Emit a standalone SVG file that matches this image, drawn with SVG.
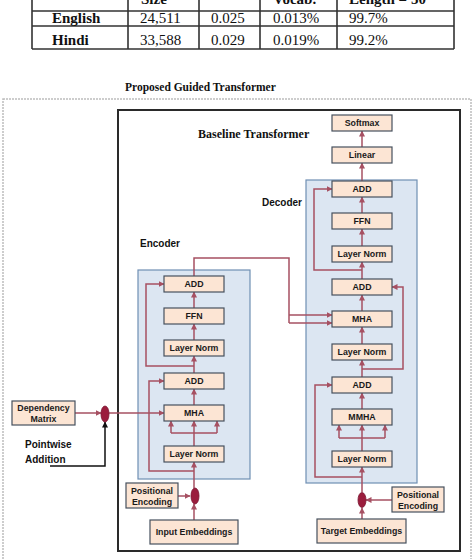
<svg xmlns="http://www.w3.org/2000/svg" width="474" height="559" viewBox="0 0 474 559">
<style>
.tb{font-family:"Liberation Serif",serif;font-size:15px;fill:#111}
.b{font-weight:bold}
.tl{stroke:#333;stroke-width:1.6;fill:none}
.box{fill:#fce5d4;stroke:#46505e;stroke-width:1.2}
.blue{fill:#dce6f2;stroke:#6f8fb3;stroke-width:1.2}
.lb{font-family:"Liberation Sans",Arial,sans-serif;font-weight:bold;font-size:8.8px;fill:#1a1a1a;text-anchor:middle}
.hd{font-family:"Liberation Sans",Arial,sans-serif;font-weight:bold;font-size:10px;fill:#111}
.c{stroke:#a65062;stroke-width:1.5;fill:none}
.ca{stroke:#a65062;stroke-width:1.5;fill:none;marker-end:url(#ar)}
.dot{fill:#9b1d3d;stroke:#7a1430;stroke-width:0.8}
</style>
<defs>
<marker id="ar" markerWidth="6" markerHeight="6" refX="5.5" refY="3" orient="auto" markerUnits="userSpaceOnUse"><path d="M0,0 L6,3 L0,6 z" fill="#a65062"/></marker>
<marker id="arb" markerWidth="6" markerHeight="6" refX="5.5" refY="3" orient="auto" markerUnits="userSpaceOnUse"><path d="M0,0 L6,3 L0,6 z" fill="#111"/></marker>
</defs>
<rect width="474" height="559" fill="#fff"/>

<!-- table -->
<g id="table">
<path class="tl" d="M32,0 V49 M128,0 V49 M199,0 V49 M260,0 V49 M337,0 V49 M454,0 V49 M32,11 H454 M32,26 H454 M32,49 H454"/>
<text class="tb b" x="141" y="4">Size</text>
<text class="tb b" x="273" y="4">Vocab.</text>
<text class="tb b" x="349" y="4">Length = 50</text>
<text class="tb b" x="52" y="23">English</text>
<text class="tb" x="140" y="23">24,511</text>
<text class="tb" x="211" y="23">0.025</text>
<text class="tb" x="273" y="23">0.013%</text>
<text class="tb" x="349" y="23">99.7%</text>
<text class="tb b" x="52" y="45">Hindi</text>
<text class="tb" x="140" y="45">33,588</text>
<text class="tb" x="211" y="45">0.029</text>
<text class="tb" x="273" y="45">0.019%</text>
<text class="tb" x="349" y="45">99.2%</text>
</g>

<text x="125" y="91" font-family="Liberation Serif,serif" font-weight="bold" font-size="11.5" fill="#111">Proposed Guided Transformer</text>

<!-- frames -->
<rect x="3" y="99" width="468" height="470" fill="none" stroke="#bdbdbd" stroke-width="1.5" stroke-dasharray="2,1"/>
<rect x="118" y="110" width="342" height="441" fill="none" stroke="#2a2a2a" stroke-width="2"/>
<text x="198" y="138" font-family="Liberation Serif,serif" font-weight="bold" font-size="12" fill="#111">Baseline Transformer</text>

<!-- blue containers -->
<g id="encoder">
<rect class="blue" x="138" y="270" width="112" height="209"/>
<text class="hd" x="140" y="247">Encoder</text>
</g>
<g id="decoder">
<rect class="blue" x="306" y="180" width="111" height="303"/>
<text class="hd" x="262" y="206">Decoder</text>
</g>

<!-- connectors -->
<g id="connectors">
<!-- encoder -->
<path class="ca" d="M194,520 V504"/>
<path class="ca" d="M178,496 H190"/>
<path class="ca" d="M194,488 V462"/>
<path class="ca" d="M194,471 H149 V381 H164"/>
<path class="c" d="M194,446 V433 M171,433 H217"/>
<path class="ca" d="M171,433 V421"/>
<path class="ca" d="M194,433 V421"/>
<path class="ca" d="M217,433 V421"/>
<path class="ca" d="M194,405 V389"/>
<path class="ca" d="M194,373 V356"/>
<path class="ca" d="M194,366 H146 V284 H164"/>
<path class="ca" d="M194,340 V324"/>
<path class="ca" d="M194,308 V292"/>
<path class="c" d="M194,276 V258 H289 V323"/>
<path class="ca" d="M289,315 H332"/>
<path class="ca" d="M289,323 H332"/>
<!-- dependency -->
<path class="ca" d="M75,413 H101"/>
<path class="ca" d="M109,413 H164"/>
<path d="M50,466 H105 V422" fill="none" stroke="#111" stroke-width="1.5" marker-end="url(#arb)"/>
<!-- decoder -->
<path class="ca" d="M362,519 V508"/>
<path class="ca" d="M392,500 H366"/>
<path class="ca" d="M362,492 V467"/>
<path class="ca" d="M362,477 H315 V385 H332"/>
<path class="c" d="M362,451 V438 M339,438 H385"/>
<path class="ca" d="M339,438 V425"/>
<path class="ca" d="M362,438 V425"/>
<path class="ca" d="M385,438 V425"/>
<path class="ca" d="M362,409 V393"/>
<path class="ca" d="M362,377 V360"/>
<path class="ca" d="M362,369 H403 V287 H392"/>
<path class="ca" d="M362,344 V327"/>
<path class="ca" d="M362,311 V295"/>
<path class="ca" d="M362,279 V262"/>
<path class="ca" d="M362,270 H314 V189 H332"/>
<path class="ca" d="M362,246 V229"/>
<path class="ca" d="M362,213 V197"/>
<path class="ca" d="M362,181 V163"/>
<path class="ca" d="M362,147 V131"/>
</g>

<!-- encoder nodes -->
<g id="enc-add2"><rect class="box" x="164" y="276" width="60" height="16"/><text class="lb" x="194" y="287">ADD</text></g>
<g id="enc-ffn"><rect class="box" x="164" y="308" width="60" height="16"/><text class="lb" x="194" y="319">FFN</text></g>
<g id="enc-ln2"><rect class="box" x="164" y="340" width="60" height="16"/><text class="lb" x="194" y="351">Layer Norm</text></g>
<g id="enc-add1"><rect class="box" x="164" y="373" width="60" height="16"/><text class="lb" x="194" y="384">ADD</text></g>
<g id="enc-mha"><rect class="box" x="164" y="405" width="60" height="16"/><text class="lb" x="194" y="416">MHA</text></g>
<g id="enc-ln1"><rect class="box" x="164" y="446" width="60" height="16"/><text class="lb" x="194" y="457">Layer Norm</text></g>
<g id="enc-pos"><rect class="box" x="126" y="483" width="52" height="25"/><text class="lb" x="152" y="494">Positional</text><text class="lb" x="152" y="505">Encoding</text></g>
<g id="enc-sum"><ellipse class="dot" cx="195" cy="496" rx="4" ry="8"/></g>
<g id="input-emb"><rect class="box" x="150" y="520" width="88" height="24"/><text class="lb" x="194" y="535">Input Embeddings</text></g>

<!-- dependency -->
<g id="dep-matrix"><rect class="box" x="12" y="401" width="63" height="24"/><text class="lb" x="43.5" y="411">Dependency</text><text class="lb" x="43.5" y="422">Matrix</text></g>
<g id="dep-sum"><ellipse class="dot" cx="105" cy="414" rx="4" ry="8"/></g>
<g id="pointwise-label"><text class="hd" x="25" y="448" font-size="10.5">Pointwise</text><text class="hd" x="25" y="463" font-size="10.5">Addition</text></g>

<!-- decoder nodes -->
<g id="softmax"><rect class="box" x="332" y="115" width="60" height="16"/><text class="lb" x="362" y="126">Softmax</text></g>
<g id="linear"><rect class="box" x="332" y="147" width="60" height="16"/><text class="lb" x="362" y="158">Linear</text></g>
<g id="dec-add3"><rect class="box" x="332" y="181" width="60" height="16"/><text class="lb" x="362" y="192">ADD</text></g>
<g id="dec-ffn"><rect class="box" x="332" y="213" width="60" height="16"/><text class="lb" x="362" y="224">FFN</text></g>
<g id="dec-ln3"><rect class="box" x="332" y="246" width="60" height="16"/><text class="lb" x="362" y="257">Layer Norm</text></g>
<g id="dec-add2"><rect class="box" x="332" y="279" width="60" height="16"/><text class="lb" x="362" y="290">ADD</text></g>
<g id="dec-mha"><rect class="box" x="332" y="311" width="60" height="16"/><text class="lb" x="362" y="322">MHA</text></g>
<g id="dec-ln2"><rect class="box" x="332" y="344" width="60" height="16"/><text class="lb" x="362" y="355">Layer Norm</text></g>
<g id="dec-add1"><rect class="box" x="332" y="377" width="60" height="16"/><text class="lb" x="362" y="388">ADD</text></g>
<g id="dec-mmha"><rect class="box" x="332" y="409" width="60" height="16"/><text class="lb" x="362" y="420">MMHA</text></g>
<g id="dec-ln1"><rect class="box" x="332" y="451" width="60" height="16"/><text class="lb" x="362" y="462">Layer Norm</text></g>
<g id="dec-sum"><ellipse class="dot" cx="362" cy="500" rx="4" ry="7.5"/></g>
<g id="dec-pos"><rect class="box" x="392" y="487" width="52" height="25"/><text class="lb" x="418" y="498">Positional</text><text class="lb" x="418" y="509">Encoding</text></g>
<g id="target-emb"><rect class="box" x="317" y="519" width="89" height="24"/><text class="lb" x="361.5" y="534">Target Embeddings</text></g>
</svg>
